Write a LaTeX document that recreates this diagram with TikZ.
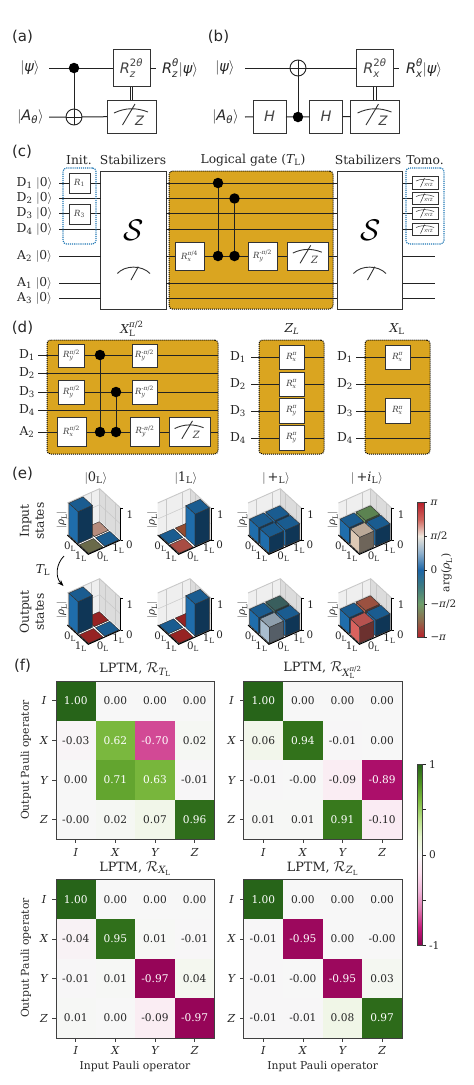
\documentclass[tikz,border=0pt]{standalone}
\usepackage{amsmath}
\usepackage{fontspec}
\setmainfont{DejaVu Serif}
\setsansfont{DejaVu Sans}
\usepackage{tikz}
\usetikzlibrary{arrows.meta,calc}
\definecolor{goldFill}{HTML}{DAA520}
\definecolor{tomoLine}{HTML}{1F77B4}
\definecolor{wireLine}{HTML}{222222}
\definecolor{gateLine}{HTML}{333333}
\definecolor{gateText}{HTML}{444444}
\definecolor{wallFill}{HTML}{EFEFEF}
\definecolor{wallGrid}{HTML}{C8C8C8}
\definecolor{barBlue}{HTML}{1F6DAB}
\definecolor{tilePink}{HTML}{D9A795}
\definecolor{tileOlive}{HTML}{7E7E58}
\definecolor{tileBrown}{HTML}{B05A3A}
\definecolor{tileRed}{HTML}{C85A50}
\definecolor{barTan}{HTML}{DDC9B5}
\definecolor{barGreen}{HTML}{6E9C60}
\definecolor{flatRed}{HTML}{B22A2A}
\definecolor{barTeal}{HTML}{44706F}
\definecolor{barSlate}{HTML}{A9BDCE}
\definecolor{barBrick}{HTML}{B9604C}
\definecolor{barCoral}{HTML}{D9625E}
\definecolor{argRed}{HTML}{B81F2B}
\definecolor{argCoral}{HTML}{D0645C}
\definecolor{argPale}{HTML}{EDE6DC}
\definecolor{argSteel}{HTML}{8FB0CC}
\definecolor{argBlue}{HTML}{1B65A6}
\definecolor{argTeal}{HTML}{3F7C80}
\definecolor{argGreen}{HTML}{6F9E6A}
\definecolor{argBrown}{HTML}{8F6A4C}
\definecolor{pg0}{HTML}{8E0152}
\definecolor{pg1}{HTML}{C51B7D}
\definecolor{pg2}{HTML}{DE77AE}
\definecolor{pg3}{HTML}{F1B6DA}
\definecolor{pg4}{HTML}{FDE0EF}
\definecolor{pg5}{HTML}{F7F7F7}
\definecolor{pg6}{HTML}{E6F5D0}
\definecolor{pg7}{HTML}{B8E186}
\definecolor{pg8}{HTML}{7FBC41}
\definecolor{pg9}{HTML}{4D9221}
\definecolor{pg10}{HTML}{276419}

\newcommand{\itxt}[1]{\text{\itshape #1}}
\newcommand{\utxt}[1]{\text{\upshape #1}}
\newcommand{\ket}[1]{$|#1\rangle$}
\newcommand{\lptmtitle}[1]{LPTM, {\fontsize{14.4}{15}\selectfont $\mathcal{R}_{#1}$}}

% arc, needle and Z inside a measurement box
\newcommand{\zmeter}[3]{
  \draw[meter line, shift={(#1.center)}, scale=#2]
    (-17.5,-3.5) .. controls (-6,-9) and (5,-9) .. (16.5,-4.5)
    (-9,8.5) -- (3.5,-12.5);
  \node[gate label, font=#3\itshape] (#1Z) at ([xshift=#2*8pt,yshift=-#2*4.5pt]#1.center) {Z};
}
% small box of the tomography column
\newcommand{\tomometer}[2]{
  \node[tomo box] (#1) at (425,#2) {};
  \draw[meter line, line width=.5pt, shift={(#1.center)}]
    (-9,-2) .. controls (-4,-4.5) and (3,-4.5) .. (9,-2)
    (-4.5,4) -- (-.5,-5);
  \node[gate label, font=\sffamily\fontsize{4.2}{5}\selectfont] (#1Text) at ([xshift=3.5pt,yshift=-1.5pt]#1.center) {XYZ};
}
% one bar plot of panel (e), placed by the front corner of its floor
\newcommand{\rhoPanel}[4]{
  \begin{scope}[shift={(#2,#3)}]
    \begin{scope}[shift={(-21,-19.3)}, x={(32.3pt,14.3pt)}, y={(21pt,-19.3pt)}, z={(0pt,32pt)}]
      \fill[wallFill] (0,0,0) -- (1,0,0) -- (1,0,1) -- (0,0,1) -- cycle;
      \fill[wallFill!92!black] (1,0,0) -- (1,1,0) -- (1,1,1) -- (1,0,1) -- cycle;
      \foreach \t in {.25,.75} {
        \draw[wall grid] (\t,0,0) -- (\t,0,1);
        \draw[wall grid] (1,\t,0) -- (1,\t,1);
      }
      \draw[wall grid] (0,0,.5) -- (1,0,.5) -- (1,1,.5);
      \draw[wall grid, line width=.9pt] (0,0,1) -- (1,0,1) -- (1,1,1);
      \draw[wall grid] (1,0,0) -- (1,0,1);
      \foreach \u/\v/\h/\c in {#4} {
        \filldraw[bar edge, fill=\c] (\u,\v,0) -- (\u,\v+.44,0) -- (\u,\v+.44,\h) -- (\u,\v,\h) -- cycle;
        \filldraw[bar edge, fill=\c!50!black] (\u,\v+.44,0) -- (\u+.44,\v+.44,0) -- (\u+.44,\v+.44,\h) -- (\u,\v+.44,\h) -- cycle;
        \filldraw[bar edge, fill=\c!84!black] (\u,\v,\h) -- (\u+.44,\v,\h) -- (\u+.44,\v+.44,\h) -- (\u,\v+.44,\h) -- cycle;
      }
      \draw[axis line] (0,0,0) -- (0,1,0) -- (1,1,0);
      \draw[axis line] (1,1,0) -- (1,1,1) -- ++(2.5pt,0pt);
      \draw[axis line] (1,1,0) -- ++(2.5pt,0pt);
    \end{scope}
    \node[plot label, rotate=90] (#1Rho) at (-26.6,-34) {$|\itxt{ρ}_{\utxt{L}}|$};
    \node[plot label] (#1One) at (41.7,-40) {1};
    \node[plot label] (#1Zero) at (41,-10) {0};
    \node[plot label] (#1Ya) at (-18.3,-7.6) {0$_{\utxt{L}}$};
    \node[plot label] (#1Yb) at (-7.6,2.4) {1$_{\utxt{L}}$};
    \node[plot label] (#1Xa) at (14.4,2.4) {0$_{\utxt{L}}$};
    \node[plot label] (#1Xb) at (30,-5.3) {1$_{\utxt{L}}$};
  \end{scope}
}
% colour of a matrix cell, from the PiYG stops
\newcommand{\heatcolor}[1]{
  \pgfmathsetmacro{\heatpos}{(#1+1)*5}
  \pgfmathtruncatemacro{\heatlow}{min(floor(\heatpos),9)}
  \pgfmathtruncatemacro{\heatup}{\heatlow+1}
  \pgfmathsetmacro{\heatmix}{(\heatup-\heatpos)*100}
  \colorlet{heatFill}{pg\heatlow!\heatmix!pg\heatup}
}
% one transfer matrix of panel (f)
\newcommand{\lptm}[5]{
  \begin{scope}[shift={(#2,#3)}]
    \foreach \val [count=\idx from 0] in {#5} {
      \pgfmathtruncatemacro{\rowi}{int(\idx/4)}
      \pgfmathtruncatemacro{\coli}{\idx-4*\rowi}
      \heatcolor{\val}
      \pgfmathsetmacro{\heattext}{abs(\val)>0.5 ? "white" : "black!85"}
      \node[heat cell, fill=heatFill, text=\heattext] (#1c\rowi\coli) at (19.8+39.6*\coli,19.8+39.6*\rowi) {\val};
    }
    \draw[frame line] (0,0) rectangle (158.4,158.4);
    \foreach \lab [count=\i from 0] in {I,X,Y,Z} {
      \draw[frame line] (#1c\i0.west) -- ++(-4,0);
      \draw[frame line] (#1c3\i.south) -- ++(0,4);
      \node[tick text] (#1Row\lab) at ([xshift=-12pt]#1c\i0.west) {\lab};
      \node[tick text] (#1Col\lab) at ([yshift=-13pt]#1c3\i.south) {\lab};
    }
    \node[title text] (#1Title) at (79.2,-11) {#4};
  \end{scope}
}

\begin{document}
\begin{tikzpicture}[
  x=1pt, y=-1pt,
  >={Stealth[length=2.2mm,width=1.6mm]},
  every node/.style={inner sep=0pt, outer sep=0pt},
  panel label/.style={font=\sffamily\fontsize{15}{17}\selectfont, text=black!85},
  sans text/.style={font=\sffamily\fontsize{14.5}{16}\selectfont, text=black!85},
  serif text/.style={font=\fontsize{12.3}{15}\selectfont, text=black!85},
  wire/.style={draw=wireLine, line width=1pt},
  classical/.style={draw=wireLine, line width=.8pt, double=white, double distance=1.6pt},
  ctrl/.style={circle, fill=black, minimum size=10.5pt},
  target/.style={circle, draw=wireLine, line width=.9pt, fill=none, minimum size=16pt,
    path picture={
      \draw[wireLine, line width=.9pt] (path picture bounding box.north) -- (path picture bounding box.south)
        (path picture bounding box.west) -- (path picture bounding box.east);
    }},
  gate/.style={draw=gateLine, fill=white, line width=.9pt, text=gateText, align=center},
  gate label/.style={text=gateText},
  meter line/.style={draw=gateLine, line width=.9pt},
  stabilizer/.style={draw=gateLine, fill=white, line width=.9pt, minimum width=65.5pt, minimum height=138pt},
  gold block/.style={draw=black, fill=goldFill, line width=1pt, densely dotted, rounded corners=3.5pt},
  blue block/.style={draw=tomoLine, line width=1.1pt, densely dotted, rounded corners=3.5pt, minimum width=#1, minimum height=76pt},
  tomo box/.style={draw=gateLine, fill=white, line width=.9pt, minimum width=26pt, minimum height=12.5pt},
  small gate/.style={gate, font=\fontsize{8.5}{10}\selectfont},
  wall grid/.style={draw=wallGrid, line width=.5pt},
  bar edge/.style={draw=black!80, line width=.45pt},
  axis line/.style={draw=black, line width=1pt},
  plot label/.style={font=\fontsize{10.3}{12}\selectfont, text=black!85},
  ket title/.style={font=\fontsize{13}{15}\selectfont, text=black!85},
  heat cell/.style={minimum size=39.6pt, font=\fontsize{10.6}{12}\selectfont},
  frame line/.style={draw=black!75, line width=.8pt},
  tick text/.style={font=\fontsize{11}{13}\selectfont\itshape, text=black!85},
  title text/.style={font=\fontsize{12.8}{15}\selectfont, text=black!85},
  axis text/.style={font=\fontsize{10.8}{12}\selectfont, text=black!85},
  colorbar tick/.style={draw=black!85, line width=.7pt}
]
\useasboundingbox (0,0) rectangle (474,1085);

% Panel (a)
\node[panel label] (labelA) at (22.5,37) {(a)};
\node[sans text] (aKetPsi) at (30,68) {\ket{\itxt{ψ}}};
\node[sans text] (aKetMagic) at (30.5,117) {\ket{\itxt{A}_{\itxt{θ}}}};
\coordinate (aWireTop) at (49,68);
\coordinate (aWireBottom) at (49,117);
\coordinate (aWireOut) at (156,68);
\node[gate, minimum width=37pt, minimum height=37pt, sans text, text=gateText] (aRz) at (131.5,68) {$\itxt{R}_{\itxt{z}}^{\utxt{2}\itxt{θ}}$};
\node[gate, minimum width=49pt, minimum height=33pt] (aMeas) at (131.5,116.5) {};
\zmeter{aMeas}{1}{\sffamily\fontsize{13}{15}\selectfont}
\node[sans text] (aOut) at (180,68) {$\itxt{R}_{\itxt{z}}^{\itxt{θ}}|\itxt{ψ}\rangle$};
\node[ctrl] (aCtrl) at (74,68) {};
\node[target] (aTarget) at (74,117) {};
\draw[wire] (aWireTop) -- (aCtrl) -- (aRz) -- (aWireOut);
\draw[wire] (aWireBottom) -- (aTarget) -- (aMeas);
\draw[wire] (aCtrl) -- (aTarget);
\draw[classical] (aRz) -- (aMeas);

% Panel (b)
\node[panel label] (labelB) at (218.5,37) {(b)};
\node[sans text] (bKetPsi) at (225,68) {\ket{\itxt{ψ}}};
\node[sans text] (bKetMagic) at (225.5,117) {\ket{\itxt{A}_{\itxt{θ}}}};
\coordinate (bWireTop) at (245,68);
\coordinate (bWireBottom) at (245,117);
\coordinate (bWireOut) at (399,68);
\node[gate, minimum width=37pt, minimum height=37pt, sans text, text=gateText] (bRx) at (375,68) {$\itxt{R}_{\itxt{x}}^{\utxt{2}\itxt{θ}}$};
\node[gate, minimum width=33pt, minimum height=33pt, sans text, text=gateText] (bHadLeft) at (269.5,116.5) {\itshape H};
\node[gate, minimum width=33pt, minimum height=33pt, sans text, text=gateText] (bHadRight) at (326,116.5) {\itshape H};
\node[gate, minimum width=49pt, minimum height=33pt] (bMeas) at (375,116.5) {};
\zmeter{bMeas}{1}{\sffamily\fontsize{13}{15}\selectfont}
\node[sans text] (bOut) at (424,68) {$\itxt{R}_{\itxt{x}}^{\itxt{θ}}|\itxt{ψ}\rangle$};
\node[target] (bTarget) at (298,68) {};
\node[ctrl] (bCtrl) at (298,117) {};
\draw[wire] (bWireTop) -- (bTarget) -- (bRx) -- (bWireOut);
\draw[wire] (bWireBottom) -- (bHadLeft) -- (bCtrl) -- (bHadRight) -- (bMeas);
\draw[wire] (bCtrl) -- (bTarget);
\draw[classical] (bRx) -- (bMeas);

% Panel (c): blocks first, wires over them, gates on top
\node[panel label] (labelC) at (22,152) {(c)};
\node[serif text] (cInit) at (79,160) {Init.};
\node[serif text] (cStabTitleA) at (133,160) {Stabilizers};
\node[serif text] (cLogicalTitle) at (253,160) {Logical gate ($\itxt{T}_{\utxt{L}}$)};
\node[serif text] (cStabTitleB) at (368,160) {Stabilizers};
\node[serif text] (cTomo) at (425,160) {Tomo.};
\node[gold block, minimum width=164pt, minimum height=138pt] (cGold) at (251,240) {};
\node[stabilizer] (cStabA) at (133.5,240) {};
\node[stabilizer] (cStabB) at (369.75,240) {};
\foreach \q/\lab/\sub/\y in {DOne/D/1/183,DTwo/D/2/198.5,DThree/D/3/213.5,DFour/D/4/229,ATwo/A/2/256,AOne/A/1/283,AThree/A/3/298.5} {
  \node[serif text] (c\q) at (34.5,\y) {\lab$_{\utxt{\sub}}$ \ket{\utxt{0}}};
  \coordinate (c\q Start) at (59,\y);
  \draw[wire] (c\q Start) -- (c\q Start -| cStabA.west);
  \draw[wire] (c\q Start -| cStabA.east) -- (c\q Start -| cStabB.west);
}
\foreach \q in {ATwo,AOne,AThree} {
  \coordinate (c\q End) at (435,0 |- c\q Start);
  \draw[wire] (c\q Start -| cStabB.east) -- (c\q End);
}
\foreach \q in {DOne,DTwo,DThree,DFour} {
  \draw[wire] (c\q Start -| cStabB.east) -- (c\q Start -| 412,0);
}
\node[small gate, minimum width=21pt, minimum height=20pt] (cRone) at (79.5,183) {$\itxt{R}_{\utxt{1}}$};
\node[small gate, minimum width=21pt, minimum height=20pt] (cRthree) at (79.5,214) {$\itxt{R}_{\utxt{3}}$};
\node[blue block=33pt] (cInitBox) at (79.5,206) {};
\node[blue block=38pt] (cTomoBox) at (425,206) {};
\tomometer{cTomoA}{183}
\tomometer{cTomoB}{198.5}
\tomometer{cTomoC}{213.5}
\tomometer{cTomoD}{229.5}
\node[scale=1.2, font=\Huge] (cScriptA) at (134,230) {$\mathcal{S}$};
\node[scale=1.2, font=\Huge] (cScriptB) at (371,230) {$\mathcal{S}$};
\draw[meter line] (117.3,273.5) .. controls (125,265) and (142,265) .. (150,273.5) (131,280) -- (138.3,266.7);
\draw[meter line] (353.5,273.5) .. controls (361,265) and (378,265) .. (386,273.5) (367.5,280) -- (374.8,266.7);
\node[small gate, minimum width=29pt, minimum height=28pt] (cRxFour) at (189.5,256) {$\itxt{R}_{\itxt{x}}^{\itxt{π}\utxt{/4}}$};
\node[small gate, minimum width=29pt, minimum height=28pt] (cRyTwo) at (262.5,256) {$\itxt{R}_{\itxt{y}}^{\utxt{-}\itxt{π}\utxt{/2}}$};
\node[gate, minimum width=40.5pt, minimum height=28pt] (cMeas) at (307.75,256) {};
\zmeter{cMeas}{.85}{\fontsize{10}{12}\selectfont}
\node[ctrl] (cCtrlA) at (218,183) {};
\node[ctrl] (cCtrlB) at (234.5,198.5) {};
\node[ctrl] (cDotA) at (218,256) {};
\node[ctrl] (cDotB) at (234.5,256) {};
\draw[wire] (cCtrlA) -- (cDotA);
\draw[wire] (cCtrlB) -- (cDotB);

% Panel (d)
\node[panel label] (labelD) at (22.5,328) {(d)};
\node[serif text] (dTitleA) at (132,329) {$\itxt{X}_{\utxt{L}}^{\itxt{π}\utxt{/2}}$};
\node[serif text] (dTitleB) at (292,329) {$\itxt{Z}_{\itxt{L}}$};
\node[serif text] (dTitleC) at (397,329) {$\itxt{X}_{\utxt{L}}$};
\node[gold block, minimum width=171pt, minimum height=114pt] (dGoldA) at (132.5,397) {};
\node[gold block, minimum width=65pt, minimum height=114pt] (dGoldB) at (291.5,397) {};
\node[gold block, minimum width=65pt, minimum height=114pt] (dGoldC) at (397.5,397) {};
\foreach \q/\lab/\y in {DOne/D$_{\utxt{1}}$/355,DTwo/D$_{\utxt{2}}$/373,DThree/D$_{\utxt{3}}$/392,DFour/D$_{\utxt{4}}$/410,ATwo/A$_{\utxt{2}}$/432} {
  \node[serif text] (dA\q) at (27,\y) {\lab};
  \coordinate (dA\q Start) at (38,\y);
  \draw[wire] (dA\q Start) -- (dA\q Start -| dGoldA.east);
}
\foreach \q/\lab/\y in {DOne/D$_{\utxt{1}}$/357,DTwo/D$_{\utxt{2}}$/384,DThree/D$_{\utxt{3}}$/411,DFour/D$_{\utxt{4}}$/438} {
  \node[serif text] (dB\q) at (238,\y) {\lab};
  \coordinate (dB\q Start) at (251,\y);
  \draw[wire] (dB\q Start) -- (dB\q Start -| dGoldB.east);
  \node[serif text] (dC\q) at (345,\y) {\lab};
  \coordinate (dC\q Start) at (356,\y);
  \draw[wire] (dC\q Start) -- (dC\q Start -| dGoldC.east);
}
\foreach \n/\x/\y/\w/\h/\ax/\ang in {
  dRyA/71.5/355.5/26/23/y/\itxt{π}\utxt{/2},
  dRyB/71.5/392/26/24/y/\itxt{π}\utxt{/2},
  dRxA/71.5/431.5/29/29/x/\itxt{π}\utxt{/2},
  dRyC/144.5/355.5/25/23/y/\utxt{-}\itxt{π}\utxt{/2},
  dRyD/144.5/392/25/24/y/\utxt{-}\itxt{π}\utxt{/2},
  dRyE/145/431.5/29/29/y/\utxt{-}\itxt{π}\utxt{/2},
  zRxA/291.75/357/24.5/24/x/\itxt{π},
  zRxB/291.75/384/24.5/24/x/\itxt{π},
  zRyA/291.75/410.5/24.5/25/y/\itxt{π},
  zRyB/291.75/437.5/24.5/25/y/\itxt{π},
  xRxA/397.75/357/24.5/24/x/\itxt{π},
  xRxB/397.75/410.5/24.5/25/x/\itxt{π}} {
  \node[small gate, minimum width=\w pt, minimum height=\h pt] (\n) at (\x,\y) {$\itxt{R}_{\itxt{\ax}}^{\ang}$};
}
\node[gate, minimum width=41pt, minimum height=29pt] (dMeas) at (189.5,431.5) {};
\zmeter{dMeas}{.85}{\fontsize{10}{12}\selectfont}
\node[ctrl] (dCtrlA) at (100,355) {};
\node[ctrl] (dCtrlB) at (116,392) {};
\node[ctrl] (dDotA) at (100,432) {};
\node[ctrl] (dDotB) at (116,432) {};
\draw[wire] (dCtrlA) -- (dDotA);
\draw[wire] (dCtrlB) -- (dDotB);

% Panel (e)
\node[panel label] (labelE) at (22.5,474) {(e)};
\node[ket title] (eTitleZero) at (96,478) {\ket{\utxt{0}_{\utxt{L}}}};
\node[ket title] (eTitleOne) at (186,478) {\ket{\utxt{1}_{\utxt{L}}}};
\node[ket title] (eTitlePlus) at (276,478) {\ket{\,\utxt{+}_{\utxt{L}}}};
\node[ket title] (eTitlePlusI) at (367,478) {\ket{\,\utxt{+}\itxt{i}_{\utxt{L}}}};
\node[serif text, rotate=90, align=center] (eRowIn) at (32,521) {Input\\states};
\node[serif text, rotate=90, align=center] (eRowOut) at (32,612) {Output\\states};
\node[serif text] (eGateLabel) at (43,570) {$\itxt{T}_{\utxt{L}}$};
\coordinate (eArrowStart) at (64,556);
\coordinate (eArrowEnd) at (63.5,586);
\draw[->, draw=black, line width=.8pt] (eArrowStart) .. controls (56,564) and (55,577) .. (eArrowEnd);

\rhoPanel{eInA}{88.3}{554.3}{.53/.03/0/tilePink,.03/.03/1/barBlue,.53/.53/0/barBlue,.03/.53/0/tileOlive}
\rhoPanel{eInB}{178.7}{554.3}{.53/.03/0/tileBrown,.03/.03/0/barBlue,.03/.53/0/tileRed,.53/.53/1/barBlue}
\rhoPanel{eInC}{269}{554.3}{.53/.03/.5/barBlue,.03/.03/.5/barBlue,.53/.53/.5/barBlue,.03/.53/.5/barBlue}
\rhoPanel{eInD}{359.4}{554.3}{.53/.03/.5/barGreen,.03/.03/.5/barBlue,.53/.53/.5/barBlue,.03/.53/.5/barTan}
\rhoPanel{eOutA}{88.3}{644.3}{.53/.03/0/flatRed,.03/.03/1/barBlue,.53/.53/0/barBlue,.03/.53/0/flatRed}
\rhoPanel{eOutB}{178.7}{644.3}{.53/.03/0/flatRed,.03/.03/0/barBlue,.03/.53/0/flatRed,.53/.53/1/barBlue}
\rhoPanel{eOutC}{269}{644.3}{.53/.03/.5/barTeal,.03/.03/.5/barBlue,.53/.53/.5/barBlue,.03/.53/.5/barSlate}
\rhoPanel{eOutD}{359.4}{644.3}{.53/.03/.5/barBrick,.03/.03/.5/barBlue,.53/.53/.5/barBlue,.03/.53/.5/barCoral}

% Colour bar of panel (e)
\foreach \ya/\yb/\ca/\cb in {502.5/519.5/argRed/argCoral,519.5/536/argCoral/argPale,536/553/argPale/argSteel,553/570/argSteel/argBlue,570/587/argBlue/argTeal,587/604/argTeal/argGreen,604/621/argGreen/argBrown,621/637.7/argBrown/argRed} {
  \shade[top color=\ca, bottom color=\cb] (417.3,\ya) rectangle (424,\yb);
}
\draw[frame line] (417.3,502.5) rectangle (424,637.7);
\foreach \y/\lab/\n in {502.5/$\itxt{π}$/A,536/$\itxt{π}\utxt{/2}$/B,570/0/C,604/$\utxt{−}\itxt{π}\utxt{/2}$/D,637.7/$\utxt{−}\itxt{π}$/E} {
  \draw[colorbar tick] (424,\y) -- (427,\y);
  \node[plot label, anchor=west, font=\fontsize{10.4}{12}\selectfont] (eBarTick\n) at (430.5,\y) {\lab};
}
\node[plot label, rotate=90, font=\fontsize{10.8}{12}\selectfont] (eBarLabel) at (446.7,573) {arg($\itxt{ρ}_{\utxt{L}}$)};

% Panel (f)
\node[panel label] (labelF) at (22.5,666) {(f)};
\lptm{fT}{56}{681}{\lptmtitle{\itxt{T}_{\utxt{L}}}}{1.00,0.00,0.00,0.00,-0.03,0.62,-0.70,0.02,0.00,0.71,0.63,-0.01,-0.00,0.02,0.07,0.96}
\lptm{fS}{243.5}{681}{\lptmtitle{\itxt{X}_{\utxt{L}}^{\itxt{π}\utxt{/2}}}}{1.00,0.00,0.00,0.00,0.06,0.94,-0.01,0.00,-0.01,-0.00,-0.09,-0.89,0.01,0.01,0.91,-0.10}
\lptm{fX}{56}{879.5}{\lptmtitle{\itxt{X}_{\utxt{L}}}}{1.00,0.00,0.00,0.00,-0.04,0.95,0.01,-0.01,-0.01,0.01,-0.97,0.04,0.01,0.00,-0.09,-0.97}
\lptm{fZ}{243.5}{879.5}{\lptmtitle{\itxt{Z}_{\utxt{L}}}}{1.00,0.00,0.00,0.00,-0.01,-0.95,0.00,-0.00,-0.01,-0.00,-0.95,0.03,-0.01,-0.01,0.08,0.97}
\node[axis text, rotate=90] (fOutTop) at (26,760) {Output Pauli operator};
\node[axis text, rotate=90] (fOutBottom) at (26,958) {Output Pauli operator};
\node[axis text] (fInLeft) at (135,1067) {Input Pauli operator};
\node[axis text] (fInRight) at (322.7,1067) {Input Pauli operator};

% Colour bar of panel (f)
\foreach \i [evaluate=\i as \j using int(\i-1)] in {10,...,1} {
  \shade[top color=pg\i, bottom color=pg\j] (417,{764.4+18.13*(10-\i)}) rectangle (422.7,{764.4+18.13*(11-\i)});
}
\draw[frame line] (417,764.4) rectangle (422.7,945.7);
\foreach \y/\n in {764.4/A,809.7/B,855/C,900.4/D,945.7/E} {
  \draw[colorbar tick] (422.7,\y) -- (425.5,\y);
}
\node[plot label, anchor=west, font=\fontsize{10.6}{12}\selectfont] (fBarTop) at (429,764.4) {1};
\node[plot label, anchor=west, font=\fontsize{10.6}{12}\selectfont] (fBarMid) at (429,855) {0};
\node[plot label, anchor=west, font=\fontsize{10.6}{12}\selectfont] (fBarLow) at (429,945.7) {-1};

\end{tikzpicture}
\end{document}
